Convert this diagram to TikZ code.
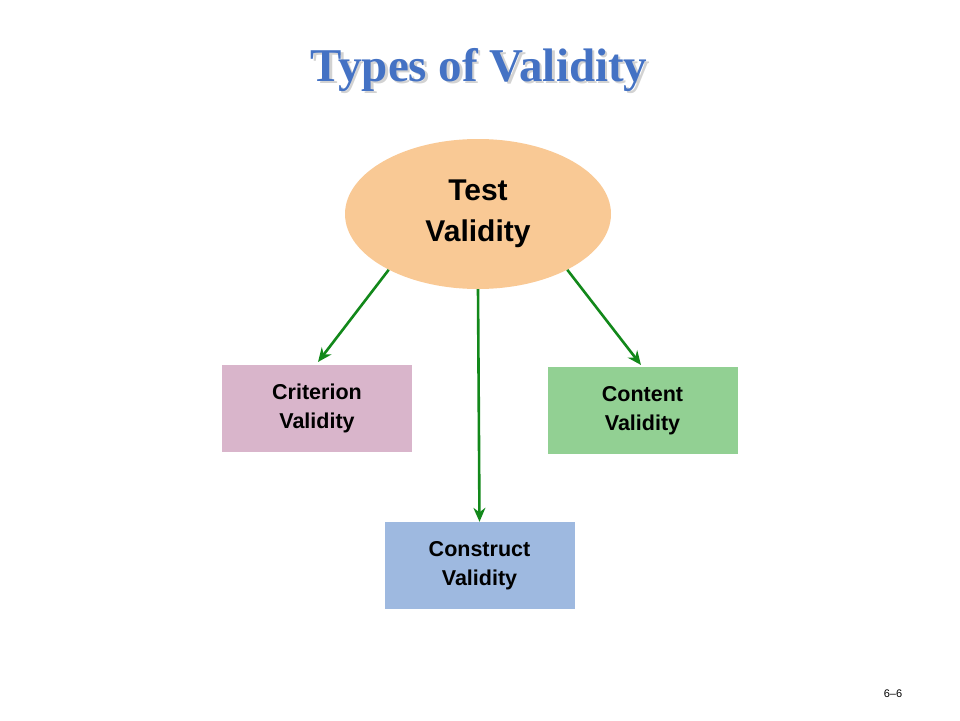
\documentclass[tikz,border=0pt]{standalone}
\usepackage{fontspec}
\setmainfont{Liberation Sans}
\newfontfamily\titlefont{Liberation Serif}
\usetikzlibrary{shapes.geometric,arrows.meta}
\definecolor{titleblue}{HTML}{4472C4}
\definecolor{ellfill}{HTML}{F9C995}
\definecolor{critfill}{HTML}{D9B5CB}
\definecolor{contfill}{HTML}{92D093}
\definecolor{consfill}{HTML}{9EB9E0}
\definecolor{arrgreen}{HTML}{12881A}
\tikzset{
  box/.style={rectangle, minimum width=190pt, minimum height=87pt, draw=none, align=center, font=\fontsize{21.5}{29}\selectfont\bfseries},
  conn/.style={draw=arrgreen, line width=2.6pt, -{Stealth[length=14pt,width=12pt]}}
}
\begin{document}
\begin{tikzpicture}[x=1pt,y=-1pt]
\useasboundingbox (0,0) rectangle (960,720);
\node[font=\fontsize{47}{52}\selectfont\titlefont\bfseries, text=gray!35] at (481.5,72.5) {Types of Validity};
\node[font=\fontsize{47}{52}\selectfont\titlefont\bfseries, text=titleblue] (title) at (479,70) {Types of Validity};
\node[ellipse, fill=ellfill, minimum width=266pt, minimum height=150pt, align=center, font=\fontsize{30}{41}\selectfont\bfseries] (test) at (478,214) {Test\\Validity};
\node[box, fill=critfill] (crit) at (317,408.5) {Criterion\\Validity};
\node[box, fill=contfill] (cont) at (642.5,410.5) {Content\\Validity};
\node[box, fill=consfill] (cons) at (479.5,565.5) {Construct\\Validity};
\draw[conn] (test.212) -- (318,362);
\draw[conn] (test.south) -- (cons.north);
\draw[conn] (test.328) -- (641,365);
\node[font=\fontsize{11}{13}\selectfont] (pg) at (893,694) {6--6};
\end{tikzpicture}
\end{document}
